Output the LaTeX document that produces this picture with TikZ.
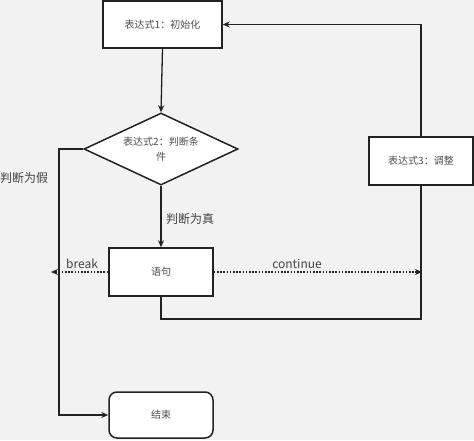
\documentclass[tikz,border=0pt]{standalone}
\usepackage{fontspec}
\setmainfont{Noto Sans CJK SC}
\usetikzlibrary{shapes.geometric,arrows.meta}
\definecolor{bg}{HTML}{F2F2F2}
\definecolor{ln}{HTML}{222222}
\tikzset{
  box/.style={draw=ln, line width=1.5pt, fill=white, minimum width=104pt, minimum height=48pt, inner sep=0pt, font=\fontsize{10}{12}\selectfont, text=ln!80},
  dec/.style={draw=ln, line width=1.5pt, fill=white, diamond, aspect=2.14, minimum width=154pt, minimum height=72pt, inner sep=0pt, align=center, font=\fontsize{10}{15}\selectfont, text=ln!80},
  conn/.style={draw=ln, line width=1.3pt},
  arr/.style={conn, -{Stealth[length=7pt,width=6pt]}},
  dotarr/.style={conn, dash pattern=on 1.6pt off 1.6pt, -{Stealth[length=7pt,width=6pt]}},
  lab/.style={font=\fontsize{12}{14}\selectfont, text=ln!85, inner sep=0pt}
}
\begin{document}
\begin{tikzpicture}[x=1pt,y=-1pt]
\fill[bg] (0,0) rectangle (474,440);
\useasboundingbox (0,0) rectangle (474,440);
\node[box, minimum width=119pt, minimum height=47pt] (b1) at (162.5,24.5) {表达式1：初始化};
\node[dec] (d2) at (161,149) {表达式2：判断条\\件};
\node[box] (b3) at (421,161) {表达式3：调整};
\node[box] (s) at (161,272) {语句};
\node[box, rounded corners=8pt, minimum height=46pt] (e) at (161,415) {结束};
\coordinate (lf) at (59,149);
\coordinate (lb) at (59,415);
\coordinate (bk) at (51,272);
\coordinate (ct) at (422,272);
\coordinate (sb) at (161,319);
\draw[arr] (b1.south) -- (d2.north);
\draw[arr] (d2.west) -- (lf) -- (lb) -- (e.west);
\draw[arr] (d2.south) -- (s.north);
\draw[dotarr] (s.west) -- (bk);
\draw[dotarr] (s.east) -- (ct);
\draw[conn] (s.south) -- (sb) -| (b3.south);
\draw[arr] (b3.north) |- (b1.east);
\node[lab] (l1) at (24,178) {判断为假};
\node[lab] (l2) at (190,219) {判断为真};
\node[lab] (l3) at (82,264) {break};
\node[lab] (l4) at (297,264) {continue};
\end{tikzpicture}
\end{document}
